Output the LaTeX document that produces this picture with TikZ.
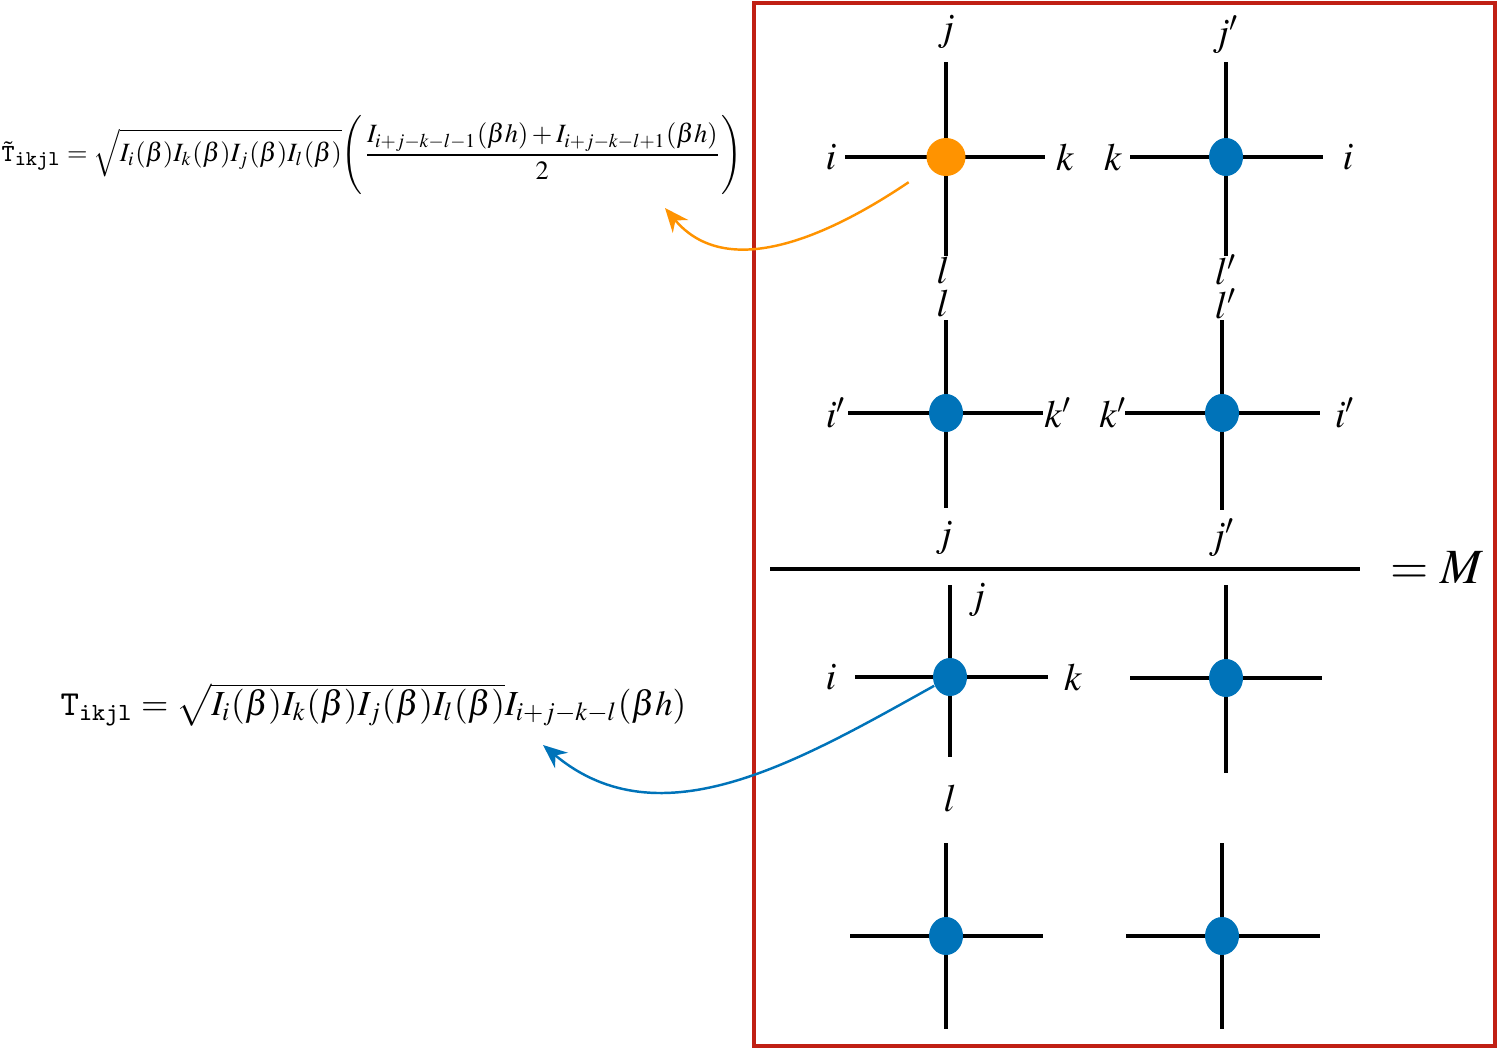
\documentclass[tikz,border=0pt]{standalone}
\usepackage{mathptmx}
\usepackage{courier}
\usepackage{amsmath}
\usetikzlibrary{shapes,arrows.meta,positioning,calc}
\definecolor{tnblue}{RGB}{0,115,185}
\definecolor{tnorange}{RGB}{255,147,0}
\definecolor{boxred}{RGB}{192,32,20}

\begin{document}
\begin{tikzpicture}[x=0.01cm, y=-0.01cm,
    tensor/.style={ellipse, inner sep=0pt, minimum width=0.34cm,
                   minimum height=0.38cm},
    leg/.style={line width=1.3pt, black},
    lbl/.style={inner sep=0pt, font=\fontsize{11}{13}\selectfont},
    arrow/.style={-{Stealth[length=2.4mm,width=2mm]}, line width=0.7pt}]

\useasboundingbox (0,0) rectangle (1500,1049);

% frame round the network
\draw[boxred, line width=0.9pt] (754,3) rectangle (1495,1046);

% tensors: name/x/y/left/right/up/down/colour/width
\foreach \n/\x/\y/\l/\r/\u/\d/\c/\w in {
    t1/946/157/101/99/95/99/tnorange/0.39cm,
    t2/1226/157/96/97/95/99/tnblue/0.34cm,
    t3/946/413/98/97/93/95/tnblue/0.34cm,
    t4/1222/413/97/98/93/97/tnblue/0.34cm,
    t5/950/677/95/98/92/80/tnblue/0.34cm,
    t6/1226/678/96/96/93/95/tnblue/0.34cm,
    t7/946/936/96/97/93/93/tnblue/0.34cm,
    t8/1222/936/96/98/93/93/tnblue/0.34cm}{
  \draw[leg] (\x,\y) -- ++(-\l,0) (\x,\y) -- ++(\r,0)
             (\x,\y) -- ++(0,-\u) (\x,\y) -- ++(0,\d);
  \node[tensor, fill=\c, minimum width=\w] (\n) at (\x,\y) {};
}

% index labels
\foreach \n/\x/\y/\t in {
    aj/946/32/$j$, ai/831/157/$i$, ak/1065/157/$k$, al/943/270/$l$,
    bj/1226/35/$j'$, bk/1113/157/$k$, bi/1348/157/$i$, bl/1226/270/$l'$,
    cl/943/303/$l$, ci/836/413/$i'$, ck/1058/413/$k'$, cj/944/538/$j$,
    dl/1226/304/$l'$, dk/1113/413/$k'$, di/1345/413/$i'$, dj/1222/538/$j'$,
    ej/977/600/$j$, ei/831/677/$i$, ek/1073/677/$k$, el/950/798/$l$}{
  \node[lbl] (\n) at (\x,\y) {\t};
}

% fraction bar and result
\coordinate (barl) at (770,569);
\coordinate (barr) at (1360,569);
\draw[line width=0.9pt] (barl) -- (barr);
\node[font=\fontsize{14}{16}\selectfont] (eqm) at (1437,568) {$=M$};

% formulas
\node[font=\fontsize{7.5}{9}\selectfont, anchor=west, inner sep=0pt] (ttilde) at (1,155)
  {$\displaystyle \tilde{\mathtt{T}}_{\mathtt{ikjl}}
   = \sqrt{I_i(\beta)I_k(\beta)I_j(\beta)I_l(\beta)}
   \Biggl(\frac{I_{i+j-k-l-1}(\beta h)+I_{i+j-k-l+1}(\beta h)}{2}\Biggr)$};
\node[font=\fontsize{10}{12}\selectfont, anchor=west, inner sep=0pt] (tplain) at (60,705)
  {$\mathtt{T}_{\mathtt{ikjl}}
   = \sqrt{I_i(\beta)I_k(\beta)I_j(\beta)I_l(\beta)}I_{i+j-k-l}(\beta h)$};

% arrows from tensors to formulas
\coordinate (ttip) at (665,208);
\coordinate (ptip) at (543,745);
\draw[arrow, tnorange, shorten <=0.25cm] (t1) .. controls +(-117,79) and +(62,74) .. (ttip);
\draw[arrow, tnblue] (t5) .. controls +(-151,84) and +(117,98) .. (ptip);
\end{tikzpicture}
\end{document}
